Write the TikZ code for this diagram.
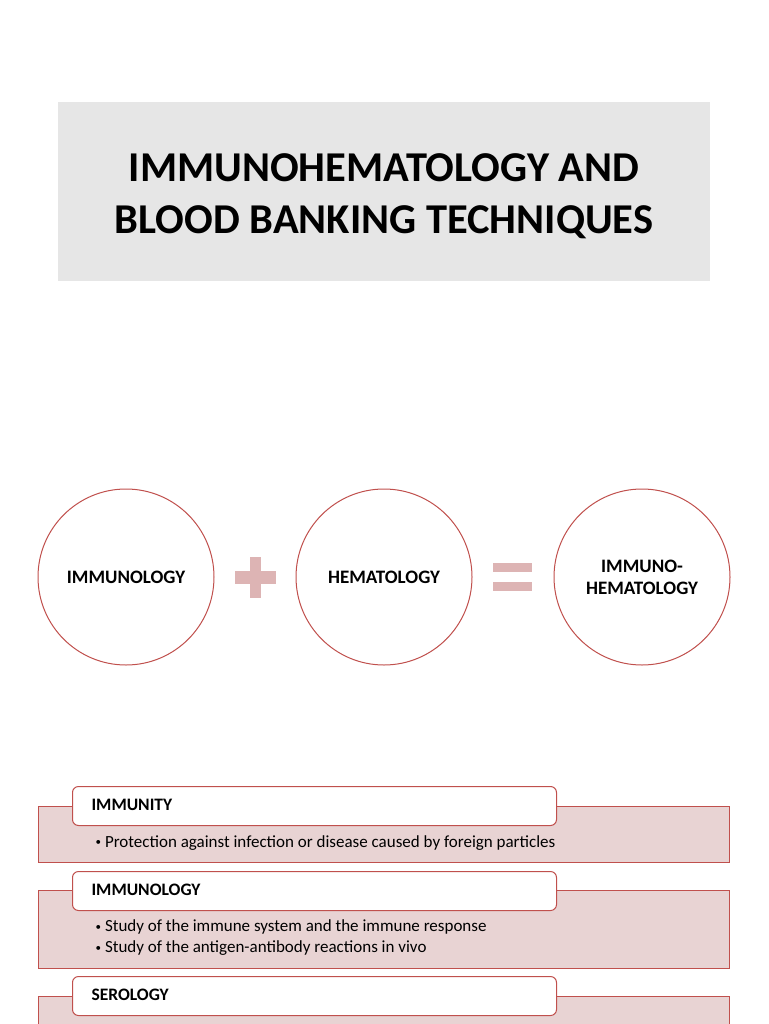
\documentclass[tikz,border=0pt]{standalone}
\usepackage{fontspec}
\setmainfont{Carlito}
\definecolor{rd}{HTML}{C0504D}
\definecolor{pk}{HTML}{DDB4B4}
\definecolor{band}{HTML}{E8D3D3}
\definecolor{gr}{HTML}{E6E6E6}
\newcommand{\bl}{{\fontsize{11}{11}\selectfont\raisebox{1.5pt}{\textbullet}}\hspace{4pt}}
\begin{document}
\begin{tikzpicture}[x=1pt,y=-1pt,
 circ/.style={circle,draw=rd,line width=1pt,minimum size=176pt,align=center,font=\fontsize{19}{22}\selectfont\bfseries},
 bandbox/.style={draw=rd,fill=band,line width=0.6pt},
 lbl/.style={draw=rd,fill=white,rounded corners=6pt,line width=1pt,minimum width=484pt,minimum height=39pt,anchor=north west,inner sep=0pt},
 lbltxt/.style={anchor=west,font=\fontsize{17.5}{20}\selectfont\bfseries},
 bul/.style={anchor=west,font=\fontsize{17}{21}\selectfont,align=left}]
\useasboundingbox (0,0) rectangle (768,1024);
\fill[gr] (58,102) rectangle (710,281);
\node[font=\fontsize{42.5}{52}\selectfont\bfseries,align=center] (title) at (384,196) {IMMUNOHEMATOLOGY AND\\BLOOD BANKING TECHNIQUES};
\node[circ] (c1) at (126,577) {IMMUNOLOGY};
\node[circ] (c2) at (384,577) {HEMATOLOGY};
\node[circ] (c3) at (642,577) {IMMUNO-\\HEMATOLOGY};
\fill[pk] (250,557) rectangle (261,598);
\fill[pk] (235,571) rectangle (276,584);
\fill[pk] (493,563) rectangle (532,572);
\fill[pk] (493,582) rectangle (532,591);
% row 1
\draw[bandbox] (38,806) rectangle (729,862);
\node[lbl] (l1) at (72,786) {};
\node[lbltxt] (t1) at (88,805) {IMMUNITY};
\node[bul] (b1) at (92,843) {\bl Protection against infection or disease caused by foreign particles};
% row 2
\draw[bandbox] (38,890) rectangle (729,968);
\node[lbl] (l2) at (72,871) {};
\node[lbltxt] (t2) at (88,890) {IMMUNOLOGY};
\node[bul] (b2) at (92,938) {\bl Study of the immune system and the immune response\\\bl Study of the antigen-antibody reactions in vivo};
% row 3
\draw[bandbox] (38,996) rectangle (729,1040);
\node[lbl] (l3) at (72,976) {};
\node[lbltxt] (t3) at (88,995) {SEROLOGY};
\end{tikzpicture}
\end{document}
